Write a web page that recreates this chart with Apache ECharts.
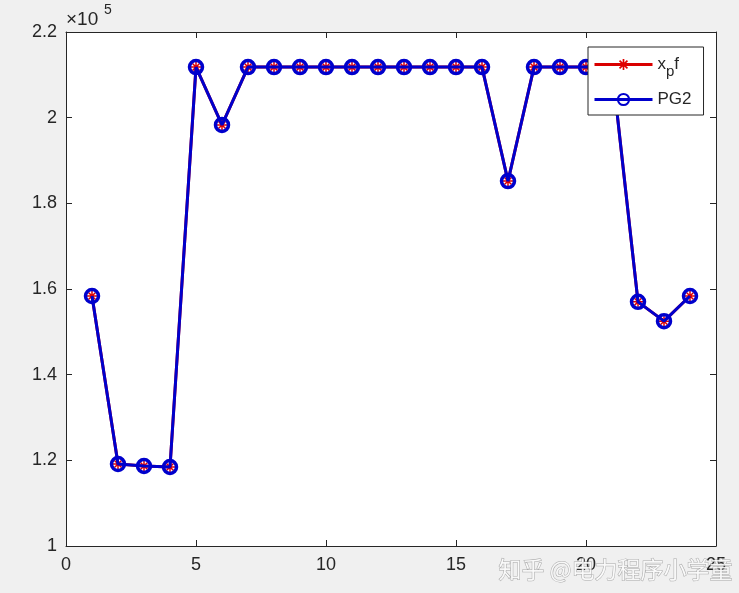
<!DOCTYPE html>
<html>
<head>
<meta charset="utf-8">
<script src="https://cdn.jsdelivr.net/npm/echarts@6/dist/echarts.min.js"></script>
<style>
html, body { margin: 0; padding: 0; background: #f0f0f0; }
#chart { width: 739px; height: 593px; }
</style>
</head>
<body>
<div id="chart"></div>
<script>
// 横坐标 1..24
var xs = [1, 2, 3, 4, 5, 6, 7, 8, 9, 10, 11, 12, 13, 14, 15, 16, 17, 18, 19, 20, 21, 22, 23, 24];
// 值
var xpf = [158360, 119140, 118680, 118440, 211800, 198300, 211800, 211800, 211800, 211800, 211800, 211800,
           211800, 211800, 211800, 211800, 185200, 211800, 211800, 211800, 211800, 157000, 152500, 158360];
var pg2 = [158360, 119140, 118680, 118440, 211800, 198300, 211800, 211800, 211800, 211800, 211800, 211800,
           211800, 211800, 211800, 211800, 185200, 211800, 211800, 211800, 211800, 157000, 152500, 158360];
var yTicks = [100000, 120000, 140000, 160000, 180000, 200000, 220000];
var xTicks = [0, 5, 10, 15, 20, 25];

var axisColor = '#262626';
var font = 'Liberation Sans, Arial, Helvetica, sans-serif';
// MATLAB 的 * 标记
var star = 'path://M8.5 0L11.5 0L11.5 20L8.5 20Z M0 8.5L20 8.5L20 11.5L0 11.5Z M1.9 4L4 1.9L18.1 16L16 18.1Z M16 1.9L18.1 4L4 18.1L1.9 16Z';

function pairs(arr) {
    return xs.map(function (x, i) { return [x, arr[i]]; });
}

var myChart = echarts.init(document.getElementById('chart'));
var option = {
    backgroundColor: '#f0f0f0',
    animation: false,
    grid: {
        left: 66, right: 23, top: 32, bottom: 47,
        show: true, backgroundColor: '#fff', borderWidth: 0
    },
    xAxis: [{
        type: 'value', min: xTicks[0], max: xTicks[xTicks.length - 1], interval: 5,
        axisLine: { show: true, onZero: false, lineStyle: { color: axisColor, width: 1 } },
        axisTick: { show: true, inside: true, length: 6, lineStyle: { color: axisColor } },
        axisLabel: { color: axisColor, fontSize: 18, fontFamily: font, margin: 10 },
        splitLine: { show: false }
    }, {
        type: 'value', position: 'top', min: xTicks[0], max: xTicks[xTicks.length - 1], interval: 5,
        axisLine: { show: true, onZero: false, lineStyle: { color: axisColor, width: 1 } },
        axisTick: { show: true, inside: true, length: 6, lineStyle: { color: axisColor } },
        axisLabel: { show: false },
        splitLine: { show: false }
    }],
    yAxis: [{
        type: 'value', min: yTicks[0], max: yTicks[yTicks.length - 1], interval: 20000,
        axisLine: { show: true, onZero: false, lineStyle: { color: axisColor, width: 1 } },
        axisTick: { show: true, inside: true, length: 6, lineStyle: { color: axisColor } },
        axisLabel: {
            color: axisColor, fontSize: 18, fontFamily: font, margin: 9,
            formatter: function (v) { return String(Math.round(v / 1e4) / 10); }
        },
        splitLine: { show: false }
    }, {
        type: 'value', position: 'right', min: yTicks[0], max: yTicks[yTicks.length - 1], interval: 20000,
        axisLine: { show: true, onZero: false, lineStyle: { color: axisColor, width: 1 } },
        axisTick: { show: true, inside: true, length: 6, lineStyle: { color: axisColor } },
        axisLabel: { show: false },
        splitLine: { show: false }
    }],
    legend: {
        left: 588, top: 47, orient: 'vertical',
        backgroundColor: '#fff', borderColor: axisColor, borderWidth: 1, borderRadius: 0,
        padding: [9, 12, 7, 5], itemGap: 12, itemWidth: 58, itemHeight: 14,
        lineStyle: { width: 3 },
        textStyle: {
            color: axisColor, fontSize: 17, fontFamily: font,
            rich: {
                a: { fontSize: 17, fontFamily: font, color: axisColor, height: 20 },
                sub: { fontSize: 15, fontFamily: font, color: axisColor, verticalAlign: 'bottom', padding: [14, 0, 0, 0], height: 20 }
            }
        },
        formatter: function (name) {
            if (name === 'x_p f') return '{a|x}{sub|p}{a|f}';
            return name;
        },
        data: ['x_p f', 'PG2']
    },
    graphic: [{
        type: 'text', left: 66, top: 10,
        style: { text: '×10', font: '19px Liberation Sans, Arial, sans-serif', fill: axisColor }
    }, {
        type: 'text', left: 104, top: 3,
        style: { text: '5', font: '14px Liberation Sans, Arial, sans-serif', fill: axisColor }
    }, {
        type: 'text', right: 6, bottom: 12, z: 100,
        style: {
            text: '知乎 @电力程序小学童',
            font: '23px "Noto Sans CJK SC", sans-serif',
            fill: 'rgba(255,255,255,0.85)',
            stroke: 'rgba(120,120,120,0.6)', lineWidth: 1
        }
    }],
    series: [{
        name: 'x_p f', type: 'line', data: pairs(xpf),
        symbol: star, symbolSize: 10,
        lineStyle: { color: '#d90000', width: 3 },
        itemStyle: { color: '#e00000' },
        z: 2
    }, {
        name: 'PG2', type: 'line', data: pairs(pg2),
        symbol: 'circle', symbolSize: 13,
        lineStyle: { color: '#0000cc', width: 3 },
        itemStyle: { color: 'rgba(0,0,0,0)', borderColor: '#0000cc', borderWidth: 3.5 },
        z: 3
    }]
};
myChart.setOption(option);
window.addEventListener('resize', function () {
    myChart.resize();
});
</script>
</body>
</html>
